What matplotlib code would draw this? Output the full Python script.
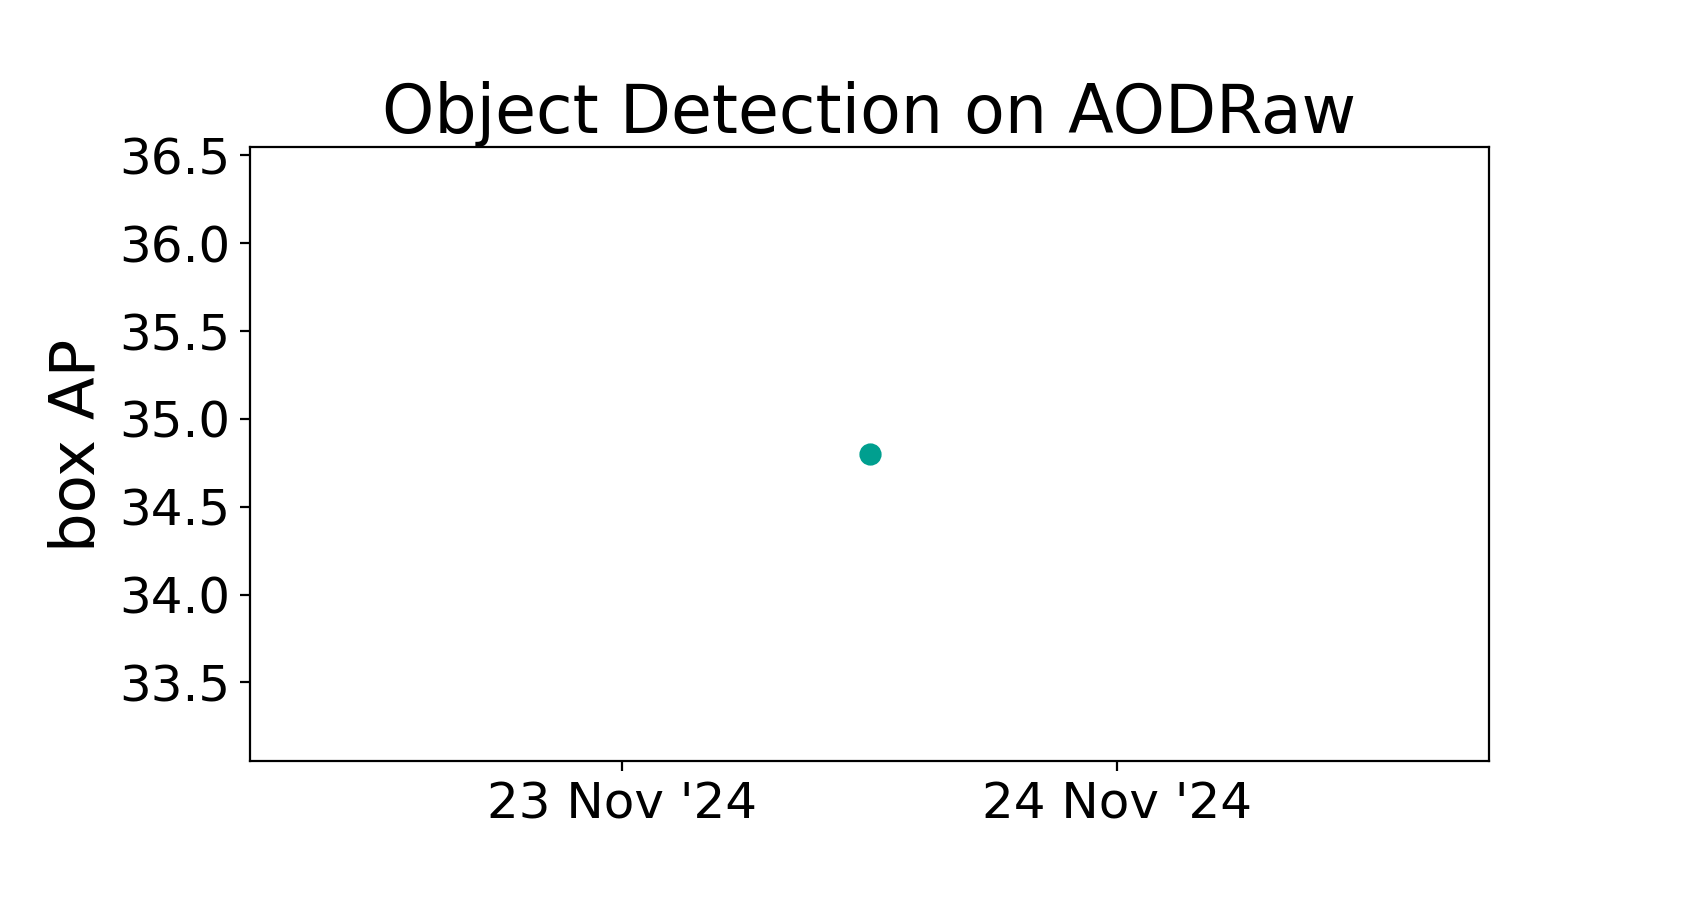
#!/usr/bin/env python3

from datetime import datetime
import matplotlib
matplotlib.use("Agg")
import matplotlib.pyplot as plt
import matplotlib.dates as mdates


# data
dates = [datetime(2024, 11, 23, 12, 0)]
box_ap = [34.8]

x_limits = [datetime(2024, 11, 22, 6, 0), datetime(2024, 11, 24, 18, 0)]
y_limits = [33.05, 36.55]
y_ticks = [33.5, 34.0, 34.5, 35.0, 35.5, 36.0, 36.5]

POINT_COLOR = "#009f8f"


def main():
    fig = plt.figure(figsize=(8.5, 4.5), dpi=200)
    ax = fig.add_axes([0.147, 0.154, 0.729, 0.683])

    ax.plot(dates, box_ap, "o", color=POINT_COLOR, markersize=7)

    ax.set_xlim(x_limits)
    ax.set_ylim(y_limits)
    ax.set_yticks(y_ticks)
    ax.xaxis.set_major_locator(mdates.DayLocator())
    ax.xaxis.set_major_formatter(mdates.DateFormatter("%d %b '%y"))
    ax.tick_params(axis="both", labelsize=18)

    ax.set_ylabel("box AP", fontsize=22.5, y=0.514)
    ax.set_title("Object Detection on AODRaw", fontsize=24, pad=3)

    fig.savefig("out.png", dpi=200)
    plt.close(fig)


if __name__ == "__main__":
    main()
